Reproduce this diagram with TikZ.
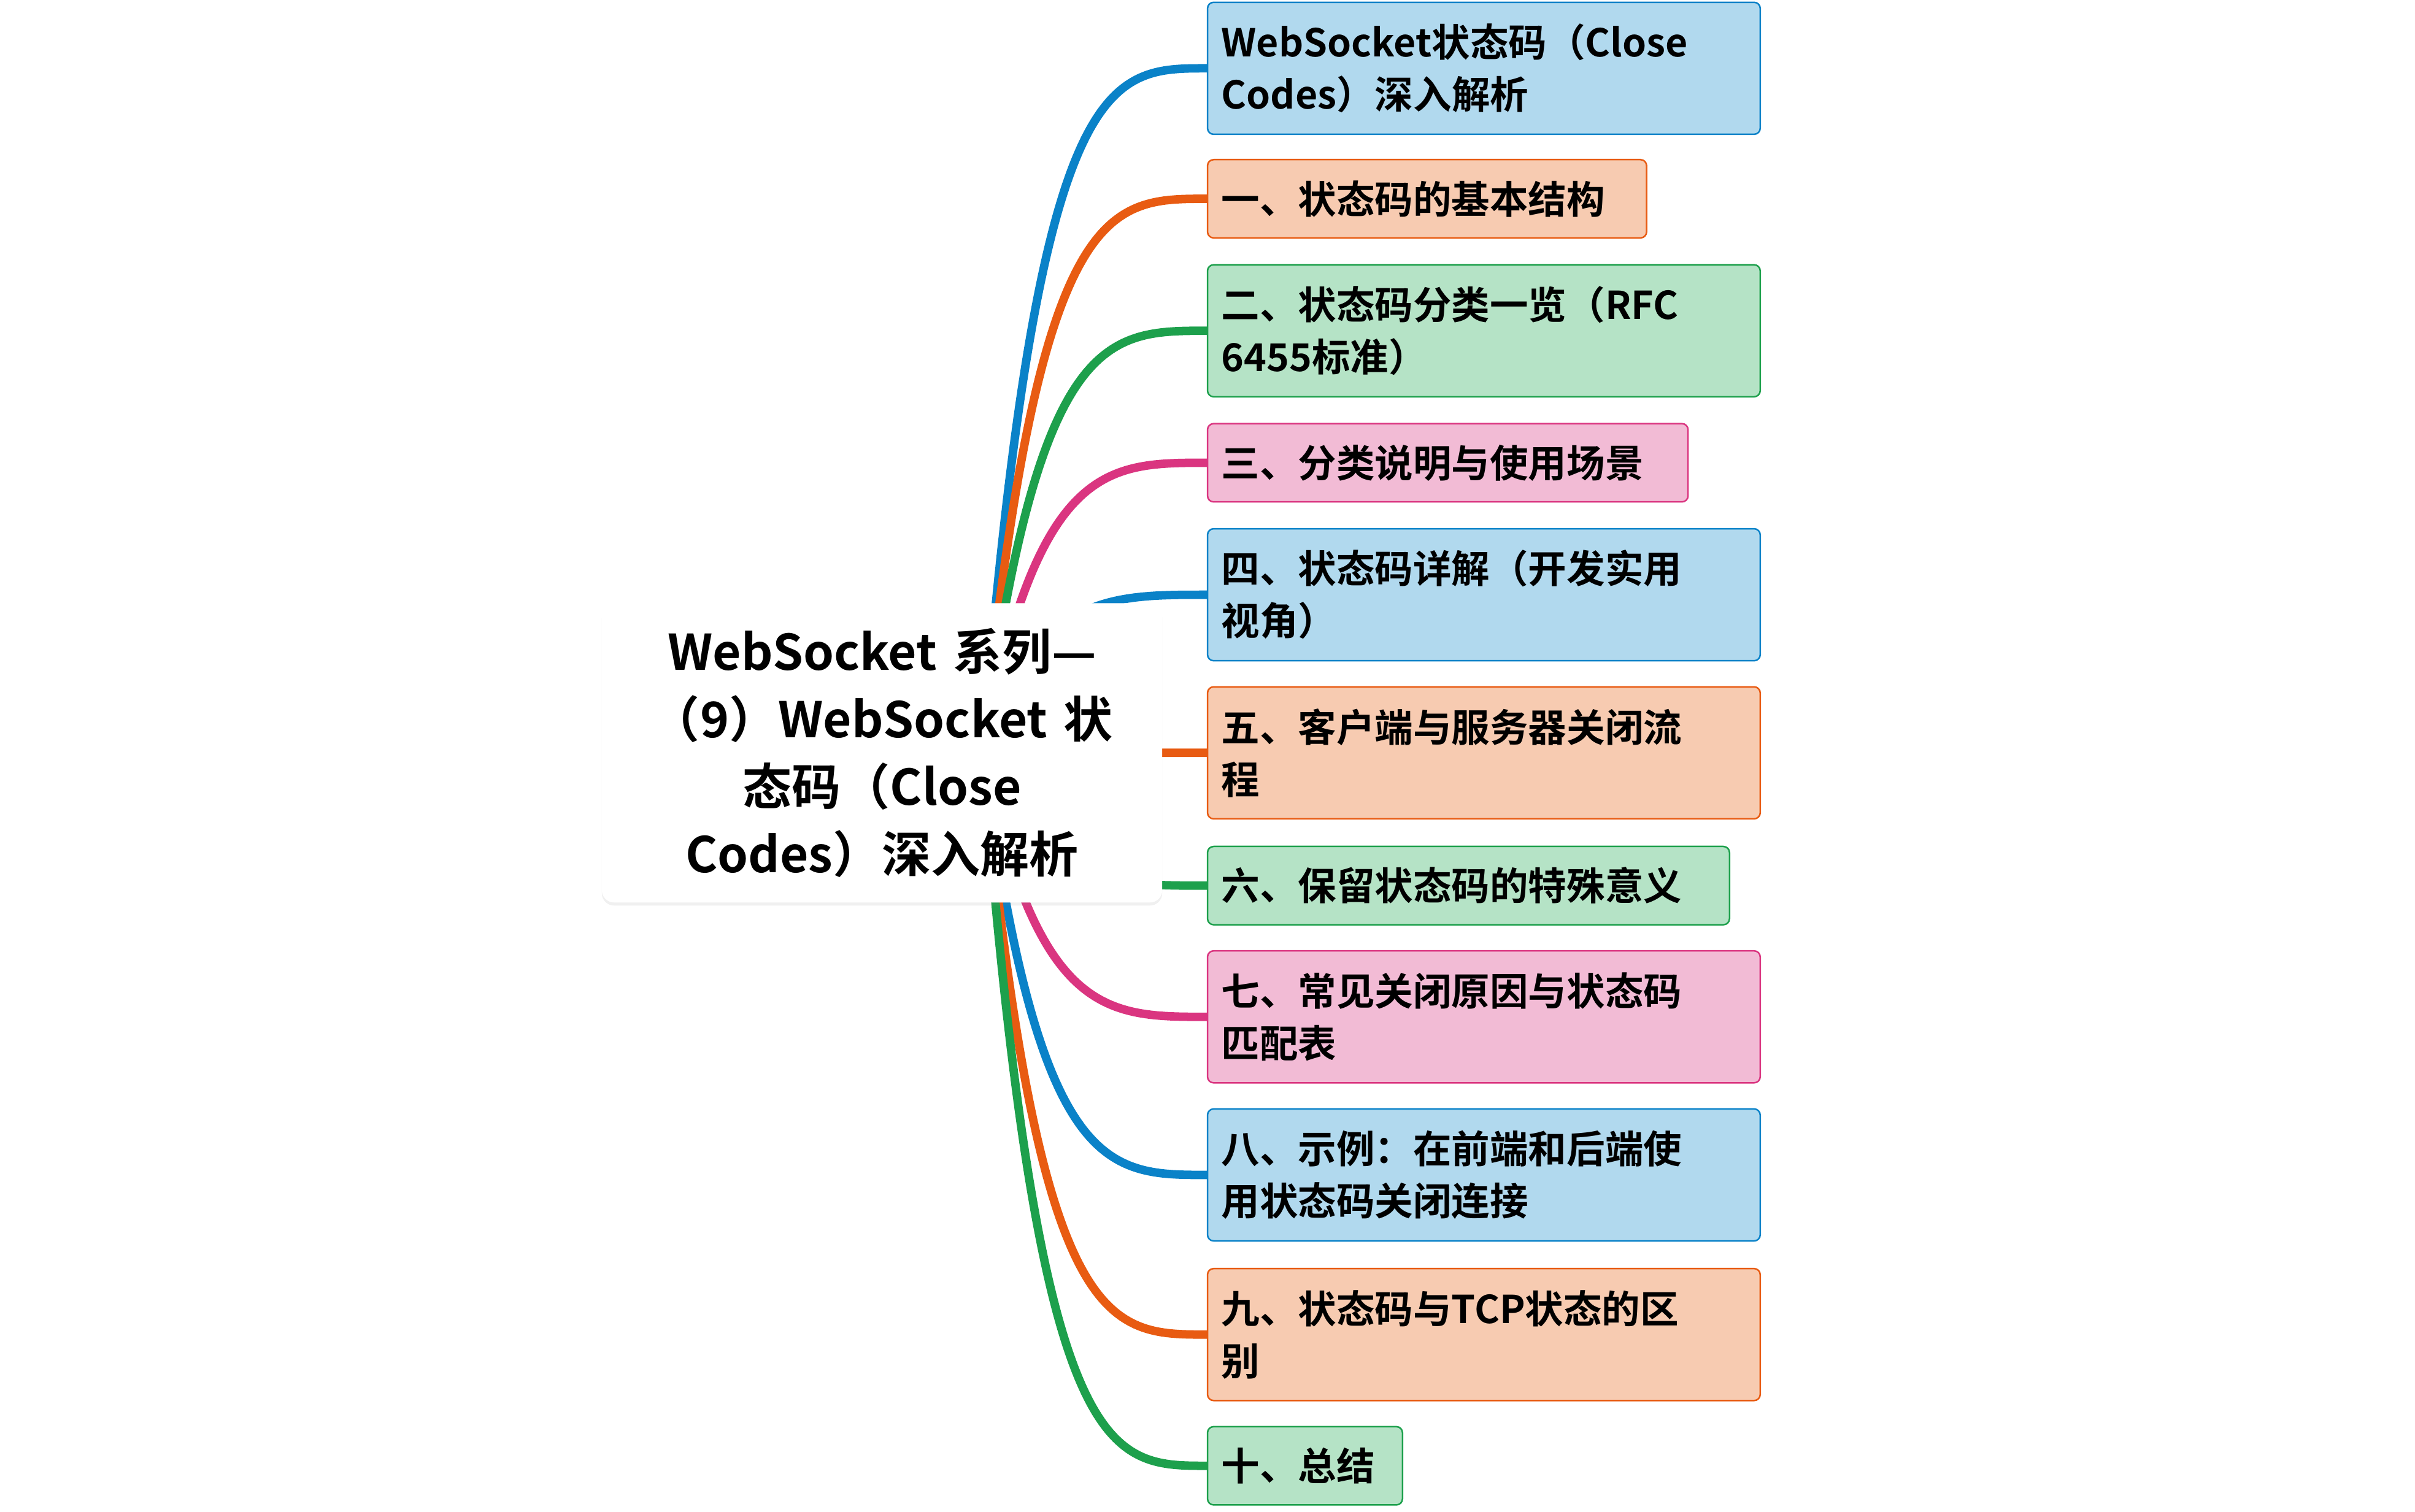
\documentclass[tikz,border=0pt]{standalone}
\usepackage{fontspec}
\setmainfont{Noto Sans CJK SC}[BoldFont={Noto Sans CJK SC Bold}]
\usetikzlibrary{shadows,calc}
\definecolor{cb}{HTML}{0A82C8}\definecolor{co}{HTML}{E85B12}\definecolor{cg}{HTML}{1DA04C}\definecolor{cp}{HTML}{DA3580}
\definecolor{fb}{HTML}{B1D9EE}\definecolor{fo}{HTML}{F7CBB1}\definecolor{fg}{HTML}{B5E3C6}\definecolor{fp}{HTML}{F2BBD5}
\begin{document}
\begin{tikzpicture}[x=1pt,y=-1pt,
 ch/.style={anchor=west,draw=c#1,fill=f#1,line width=1pt,rounded corners=4pt,inner sep=9pt,align=left,font=\fontsize{25}{34}\selectfont\bfseries,minimum height=51pt},
 ln/.style={line width=5.5pt,c#1}]
\useasboundingbox (0,0) rectangle (1573,985);
\node[ch=b,text width=342,minimum height=86pt] (a) at (786,44.5) {WebSocket状态码（Close\\Codes）深入解析};
\node[ch=o,text width=268] (b) at (786,129.5) {一、状态码的基本结构};
\node[ch=g,text width=342,minimum height=86pt] (c) at (786,215.5) {二、状态码分类一览（RFC\\6455标准）};
\node[ch=p,text width=295] (d) at (786,301.5) {三、分类说明与使用场景};
\node[ch=b,text width=342,minimum height=86pt] (e) at (786,387.5) {四、状态码详解（开发实用\\视角）};
\node[ch=o,text width=342,minimum height=86pt] (f) at (786,490.5) {五、客户端与服务器关闭流\\程};
\node[ch=g,text width=322] (g) at (786,577) {六、保留状态码的特殊意义};
\node[ch=p,text width=342,minimum height=86pt] (h) at (786,662.5) {七、常见关闭原因与状态码\\匹配表};
\node[ch=b,text width=342,minimum height=86pt] (i) at (786,765.5) {八、示例：在前端和后端使\\用状态码关闭连接};
\node[ch=o,text width=342,minimum height=86pt] (j) at (786,869.5) {九、状态码与TCP状态的区\\别};
\node[ch=g,text width=109] (k) at (786,955) {十、总结};
\coordinate (s1) at (640,490);
\foreach \n/\c in {a/b,b/o,c/g,d/p,e/b,f/o,g/g,h/p,i/b,j/o,k/g}{
 \path (\n.west) ++(-110,0) coordinate (p1) ++(45,0) coordinate (p2);
 \draw[ln=\c] (s1) .. controls (p1) and (p2) .. (\n.west);}
\node[fill=white,rounded corners=8pt,drop shadow={opacity=0.12,shadow xshift=0pt,shadow yshift=-2pt},minimum width=365pt,minimum height=195pt,text width=335pt,align=center,font=\fontsize{32}{44}\selectfont\bfseries] (r) at (574.5,490.5) {WebSocket 系列—\\（9）WebSocket 状\\态码（Close\\Codes）深入解析};
\end{tikzpicture}
\end{document}
